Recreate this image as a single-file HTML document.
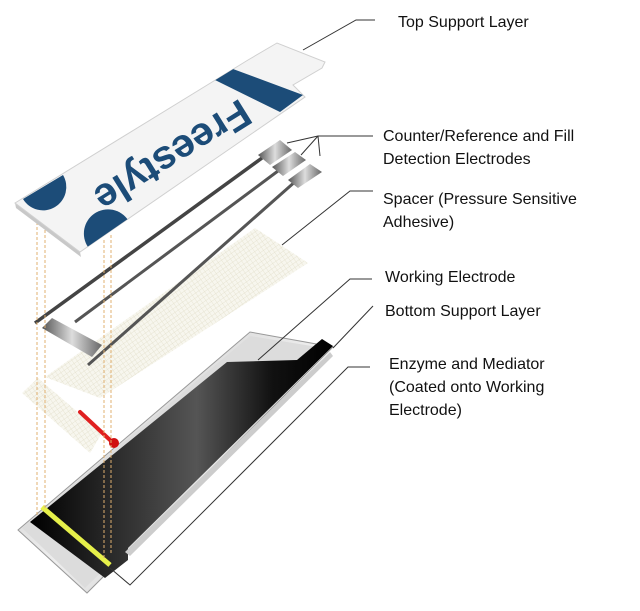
<!DOCTYPE html>
<html><head><meta charset="utf-8"><style>
html,body{margin:0;padding:0;background:#fff}
svg{display:block}
text{font-family:"Liberation Sans",Arial,sans-serif;font-size:16px;fill:#111}
</style></head><body>
<svg width="640" height="611" viewBox="0 0 640 611" xmlns="http://www.w3.org/2000/svg">
<defs>
<pattern id="mesh" width="4" height="4" patternUnits="userSpaceOnUse" patternTransform="rotate(-35)">
<rect width="4" height="4" fill="#f7f6ee"/>
<path d="M0 0H4M0 0V4" stroke="#e2dfca" stroke-width="0.7"/>
</pattern>
<linearGradient id="blk" x1="0" y1="0" x2="1" y2="0">
<stop offset="0" stop-color="#000"/><stop offset="0.55" stop-color="#555"/><stop offset="0.8" stop-color="#111"/><stop offset="1" stop-color="#000"/>
</linearGradient>
<linearGradient id="pad" x1="0" y1="0" x2="1" y2="0">
<stop offset="0" stop-color="#555"/><stop offset="0.5" stop-color="#ddd"/><stop offset="1" stop-color="#666"/>
</linearGradient>
<linearGradient id="silv" x1="0" y1="0" x2="1" y2="1">
<stop offset="0" stop-color="#bbb"/><stop offset="0.5" stop-color="#eee"/><stop offset="1" stop-color="#bbb"/>
</linearGradient>
<clipPath id="body"><polygon points="15,203 248,60 277,43 325,62 322,68 293,85 305,97 80,252"/></clipPath>
</defs>

<!-- bottom support layer -->
<polygon points="18,530 250,332 333,347 87,593" fill="url(#silv)" stroke="#999" stroke-width="1"/>
<polygon points="22,528 250,336 330,349 85,588" fill="#dcdcdc"/>
<polygon points="30,522 227,362 297,360 322,339 333,346 128,548 128,560 105,578" fill="url(#blk)"/>
<polygon points="125,552 330,352 333,356 130,556" fill="#ccc"/>
<line x1="42" y1="507" x2="110" y2="565" stroke="#e6f04a" stroke-width="5"/>

<!-- spacer meshes -->
<polygon points="45,377 255,228 308,263 100,398" fill="url(#mesh)"/>
<polygon points="22,393 38,378 102,433 90,453" fill="url(#mesh)"/>

<!-- electrodes -->
<line x1="35" y1="323" x2="262" y2="158" stroke="#444" stroke-width="3.5"/>
<line x1="75" y1="322" x2="282" y2="168" stroke="#555" stroke-width="3"/>
<line x1="88" y1="365" x2="297" y2="180" stroke="#555" stroke-width="3"/>
<polygon points="258,155 280,140 292,150 270,165" fill="url(#pad)"/>
<polygon points="272,167 295,152 306,160 283,176" fill="url(#pad)"/>
<polygon points="288,180 310,164 322,172 298,188" fill="url(#pad)"/>
<polygon points="42,328 52,318 102,345 92,357" fill="url(#pad)"/>

<!-- red drop -->
<line x1="80" y1="412" x2="110" y2="440" stroke="#e02020" stroke-width="4" stroke-linecap="round"/>
<circle cx="114" cy="443" r="5" fill="#d01010"/>

<!-- dashed verticals -->
<g stroke="#e0b070" stroke-width="1" stroke-dasharray="3,2">
<line x1="37" y1="222" x2="37" y2="515"/><line x1="45" y1="225" x2="45" y2="510"/>
<line x1="104" y1="240" x2="104" y2="560"/><line x1="111" y1="235" x2="111" y2="555"/>
</g>

<!-- top support layer -->
<polygon points="15,203 80,252 81,257 16,208" fill="#c8c8c8"/>
<polygon points="15,203 248,60 277,43 325,62 322,68 293,85 305,97 80,252" fill="#f4f4f4" stroke="#d0d0d0"/>
<g clip-path="url(#body)" fill="#1c4c78">
<polygon points="215,80 233,69 303,95 280,112"/>
<path d="M23,199 L63,175 A23,23 0 0 1 23,199 Z"/>
<path d="M88,247 L128,220 A24,24 0 0 0 88,247 Z"/>
</g>
<text x="0" y="0" transform="translate(240,98) rotate(148)" style="font-size:40px;font-weight:bold;fill:#1c4c78">Freestyle</text>

<!-- leader lines -->
<g stroke="#333" stroke-width="1" fill="none">
<polyline points="303,50 356,20 375,20"/>
<polyline points="373,136 318,136"/>
<line x1="318" y1="136" x2="287" y2="143"/>
<line x1="318" y1="136" x2="301" y2="155"/>
<line x1="318" y1="136" x2="320" y2="156"/>
<polyline points="373,191 350,191 282,245"/>
<polyline points="372,279 350,279 258,360"/>
<polyline points="373,306 333,348"/>
<polyline points="370,367 348,367 130,585 110,568"/>
</g>

<!-- labels -->
<text x="398" y="27">Top Support Layer</text>
<text x="383" y="141">Counter/Reference and Fill</text>
<text x="383" y="164">Detection Electrodes</text>
<text x="383" y="204">Spacer (Pressure Sensitive</text>
<text x="383" y="227">Adhesive)</text>
<text x="385" y="282">Working Electrode</text>
<text x="385" y="316">Bottom Support Layer</text>
<text x="389" y="369">Enzyme and Mediator</text>
<text x="389" y="392">(Coated onto Working</text>
<text x="389" y="415">Electrode)</text>
</svg>
</body></html>
